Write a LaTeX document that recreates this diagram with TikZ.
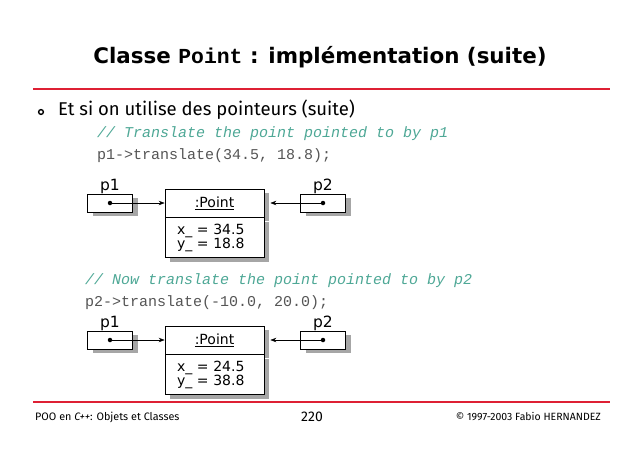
\documentclass[tikz,border=0pt]{standalone}
\usepackage{fontspec}
\setmainfont{Fira Sans}
\setsansfont{DejaVu Sans}
\setmonofont{Liberation Mono}
\usetikzlibrary{positioning, arrows.meta, shadows}

\definecolor{slidered}{RGB}{222,32,52}
\definecolor{commentgreen}{RGB}{78,168,150}
\definecolor{codegray}{RGB}{85,85,85}

\begin{document}
\begin{tikzpicture}[
  x=1pt, y=-1pt,
  boxshadow/.style={drop shadow={shadow xshift=5pt, shadow yshift=-4pt,
                    fill=black!35, opacity=1}},
  ptrbox/.style={draw, fill=white, line width=0.7pt, minimum width=45pt,
                 minimum height=18pt, inner sep=0pt, boxshadow},
  hdrbox/.style={draw, fill=white, line width=0.7pt, minimum width=99pt,
                 minimum height=28pt, inner sep=0pt, font=\sffamily\fontsize{14}{15}\selectfont},
  attbox/.style={draw, fill=white, line width=0.7pt, minimum width=99pt,
                 minimum height=40pt, inner xsep=12pt, inner ysep=0pt,
                 text width=75pt, align=left, anchor=north,
                 font=\sffamily\fontsize{14}{14.5}\selectfont},
  dot/.style={circle, fill=black, inner sep=0pt, minimum size=4.5pt},
  varname/.style={font=\sffamily\fontsize{15.5}{17}\selectfont},
  ref/.style={-{Stealth[length=6pt, width=4.5pt]}, line width=0.6pt},
  comment/.style={font=\ttfamily\itshape\fontsize{15}{17}\selectfont,
                  text=commentgreen, anchor=west, inner sep=0pt},
  code/.style={font=\ttfamily\fontsize{15}{17}\selectfont, text=codegray,
               anchor=west, inner sep=0pt},
]
  \useasboundingbox[fill=white] (0,0) rectangle (638,451);

  % Title
  \node[font=\sffamily\bfseries\fontsize{21.4}{25}\selectfont] (title) at (320,57)
    {Classe \texttt{Point} : implémentation (suite)};
  \draw[slidered, line width=2.5pt] (33,89) -- (610,89);

  % Bullet
  \draw[line width=1.4pt] (41,112) circle (2.4pt);
  \node[font=\fontsize{18.5}{21}\selectfont, anchor=west, inner sep=0pt] (item)
    at (58,110) {Et si on utilise des pointeurs (suite)};

  % Code lines
  \node[comment] (c1) at (97,134) {// Translate the point pointed to by p1};
  \node[code]    (k1) at (97,156) {p1->translate(34.5, 18.8);};
  \node[comment] (c2) at (85,281) {// Now translate the point pointed to by p2};
  \node[code]    (k2) at (85,303) {p2->translate(-10.0, 20.0);};

  % Object diagrams
  \foreach \dy/\xv/\yv/\n in {0/34.5/18.8/a, 137/24.5/38.8/b} {
    \node[ptrbox] (pa\n) at (110,203+\dy) {};
    \node[ptrbox] (pb\n) at (323,203+\dy) {};
    \node[varname] (la\n) at (110,186+\dy) {p1};
    \node[varname] (lb\n) at (323,186+\dy) {p2};
    \node[hdrbox, boxshadow] (hdr\n) at (214.5,203+\dy) {\underline{:Point}};
    \node[attbox, boxshadow] (att\n) at (hdr\n.south) {x\_ = \xv\\y\_ = \yv};
    \node[hdrbox] at (hdr\n) {\underline{:Point}};
    \node[dot] (da\n) at (pa\n.center) {};
    \node[dot] (db\n) at (pb\n.center) {};
    \draw[ref] (da\n.center) -- (hdr\n.west);
    \draw[ref] (db\n.center) -- ([xshift=6pt]hdr\n.east);
  }

  % Footer
  \draw[slidered, line width=2.5pt] (33,402) -- (610,402);
  \node[font=\fontsize{10.8}{12}\selectfont, anchor=west, inner sep=0pt] (foot)
    at (35,417) {POO en \textit{C++}: Objets et Classes};
  \node[font=\fontsize{14}{16}\selectfont] (page) at (312,417) {220};
  \node[font=\fontsize{10.5}{12}\selectfont, anchor=east, inner sep=0pt] (copy)
    at (601,417) {\textcopyright{} 1997-2003 Fabio HERNANDEZ};

\end{tikzpicture}
\end{document}
